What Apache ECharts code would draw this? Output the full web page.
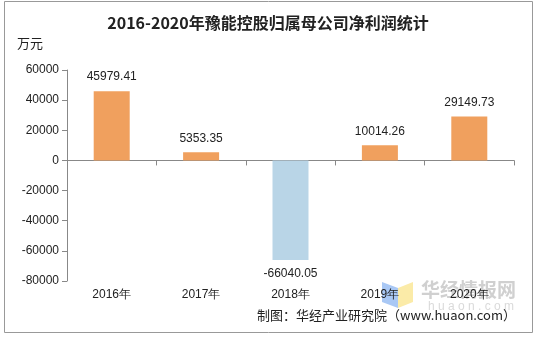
<!DOCTYPE html>
<html>
<head>
<meta charset="utf-8">
<script src="https://cdn.jsdelivr.net/npm/echarts@6/dist/echarts.min.js"></script>
<style>
html,body{margin:0;padding:0;background:#fff;}
#main{width:536px;height:337px;}
</style>
</head>
<body>
<div id="main"></div>
<script>
var fontFamily='"Liberation Sans","Noto Sans CJK SC",Arial,sans-serif';
var years=['2016年','2017年','2018年','2019年','2020年'];
var profit=[45979.41,5353.35,-66040.05,10014.26,29149.73];
var posColor='#F0A05E';
var negColor='#B9D5E7';

var chart=echarts.init(document.getElementById('main'));
var option={
    animation:false,
    title:{
        text:'2016-2020年豫能控股归属母公司净利润统计',
        left:'center',
        top:10,
        textStyle:{fontFamily:'"Noto Sans CJK SC",serif',fontSize:16,fontWeight:'bold',color:'#222'}
    },
    grid:{left:67,right:22,top:70,bottom:56,containLabel:false},
    xAxis:{
        type:'category',
        data:years,
        axisLine:{onZero:true,lineStyle:{color:'#888'}},
        axisTick:{show:true,alignWithLabel:false,lineStyle:{color:'#888'}},
        axisLabel:{show:false}
    },
    yAxis:{
        type:'value',
        min:-80000,max:60000,interval:20000,
        axisLine:{show:true,lineStyle:{color:'#888'}},
        axisTick:{show:true,lineStyle:{color:'#888'}},
        splitLine:{show:false},
        axisLabel:{color:'#222',fontFamily:fontFamily,fontSize:12,formatter:function(v){return String(v);}}
    },
    series:[{
        type:'bar',
        barWidth:36,
        data:profit.map(function(v){
            return {value:v,itemStyle:{color:v<0?negColor:posColor}};
        }),
        label:{show:true,position:'outside',color:'#222',fontFamily:fontFamily,fontSize:12,distance:8}
    }],
    graphic:[
        {type:'rect',shape:{x:4.5,y:1.5,width:528,height:331},style:{fill:'none',stroke:'#999',lineWidth:1},z:-10},
        {type:'text',left:17,top:37,style:{text:'万元',font:'13px "Noto Sans CJK SC"',fill:'#222'}},
        {type:'polygon',shape:{points:[[382,282],[398,288],[398,308],[382,302]]},style:{fill:'#A9C8F5'},z:-5},
        {type:'polygon',shape:{points:[[398,288],[413,282],[413,302],[398,308]]},style:{fill:'#FBEBA8'},z:-5},
        {type:'text',left:421,top:280,style:{text:'华经情报网',font:'bold 19px "Noto Sans CJK SC"',fill:'#D0D0D0'},z:-5},
        {type:'text',left:428,top:301,style:{text:'h u a o n . c o m',font:'12px "Liberation Sans"',fill:'#DADADA'},z:-5},
        {type:'text',right:20,top:309,style:{text:'制图：华经产业研究院（www.huaon.com）',font:'13px "Noto Sans CJK SC"',fill:'#222'}}
    ]
};
// x labels sit below the plot, not at the zero line
option.graphic=option.graphic.concat(years.map(function(y,i){
    return {type:'text',x:0,y:0,id:'xl'+i,style:{text:y,font:'12px "Liberation Sans","Noto Sans CJK SC"',fill:'#222',align:'center'}};
}));
chart.setOption(option);
var pos=years.map(function(y,i){return chart.convertToPixel({xAxisIndex:0},i);});
chart.setOption({graphic:years.map(function(y,i){
    return {id:'xl'+i,x:pos[i],y:289};
})});
</script>
</body>
</html>
